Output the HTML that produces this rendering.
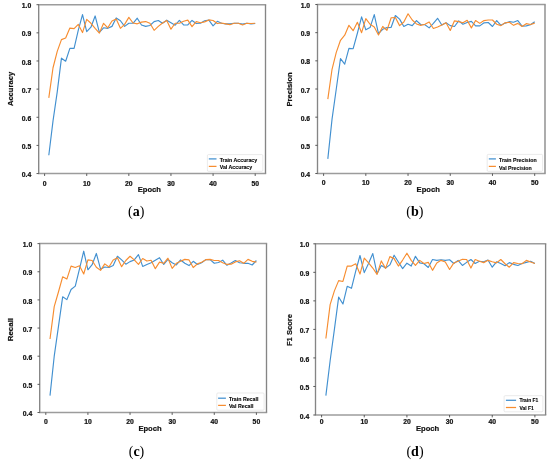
<!DOCTYPE html>
<html><head><meta charset="utf-8"><style>
html,body{margin:0;padding:0;background:#fff;}
body{width:550px;height:461px;overflow:hidden;}
svg{display:block;filter:blur(0.3px);}
.tk{font-family:'Liberation Sans', Arial, sans-serif;font-weight:bold;font-size:6.8px;fill:#111;stroke:#111;stroke-width:0.22px;}
.al{font-family:'Liberation Sans', Arial, sans-serif;font-weight:bold;font-size:7.6px;fill:#111;stroke:#111;stroke-width:0.2px;}
.lg{font-family:'Liberation Sans', Arial, sans-serif;font-weight:bold;fill:#000;stroke:#000;stroke-width:0.1px;}
.cap{font-family:'Liberation Serif','Times New Roman',serif;font-size:14px;fill:#000;}
</style></head><body>
<svg width="550" height="461" viewBox="0 0 550 461">
<rect width="550" height="461" fill="#fff"/>
<polyline points="48.81,155.26 53.02,120.93 57.24,91.94 61.45,58.17 65.66,61.26 69.87,48.32 74.08,48.32 78.30,30.03 82.51,14.55 86.72,31.72 90.93,27.21 95.14,15.96 99.36,32.28 103.57,27.78 107.78,28.34 111.99,26.37 116.20,17.93 120.42,20.74 124.63,26.37 128.84,23.27 133.05,23.27 137.26,18.21 141.48,24.96 145.69,26.37 149.90,25.52 154.11,21.59 158.32,20.46 162.54,23.27 166.75,20.18 170.96,22.71 175.17,25.24 179.38,20.46 183.60,24.96 187.81,24.96 192.02,20.46 196.23,23.55 200.44,23.27 204.66,20.74 208.87,20.18 213.08,25.81 217.29,21.30 221.50,23.27 225.72,23.84 229.93,23.84 234.14,23.27 238.35,23.27 242.56,24.12 246.78,23.27 250.99,23.84 255.20,23.55" fill="none" stroke="#4290d0" stroke-width="1.15" stroke-linejoin="round"/>
<polyline points="48.81,97.85 53.02,67.74 57.24,51.42 61.45,39.60 65.66,37.91 69.87,28.06 74.08,28.62 78.30,24.40 82.51,32.56 86.72,19.33 90.93,23.27 95.14,28.34 99.36,33.12 103.57,23.27 107.78,27.78 111.99,21.02 116.20,19.05 120.42,28.34 124.63,24.40 128.84,17.36 133.05,22.99 137.26,23.84 141.48,22.15 145.69,21.59 149.90,23.27 154.11,30.31 158.32,26.37 162.54,22.99 166.75,20.46 170.96,29.18 175.17,23.27 179.38,23.27 183.60,21.30 187.81,20.18 192.02,26.65 196.23,21.59 200.44,22.71 204.66,21.87 208.87,19.90 213.08,20.46 217.29,23.55 221.50,22.99 225.72,23.84 229.93,24.68 234.14,23.27 238.35,23.27 242.56,24.96 246.78,23.27 250.99,23.55 255.20,23.27" fill="none" stroke="#f78d30" stroke-width="1.15" stroke-linejoin="round"/>
<line x1="38.03" y1="4.70" x2="266.18" y2="4.70" stroke="#9c9c9c" stroke-width="1.5"/>
<line x1="38.03" y1="173.55" x2="266.18" y2="173.55" stroke="#9c9c9c" stroke-width="1.5"/>
<line x1="38.70" y1="4.70" x2="38.70" y2="173.55" stroke="#858585" stroke-width="1.35"/>
<line x1="265.50" y1="4.70" x2="265.50" y2="173.55" stroke="#858585" stroke-width="1.35"/>
<line x1="36.50" y1="173.55" x2="38.70" y2="173.55" stroke="#4a4a4a" stroke-width="0.9"/>
<text x="31.20" y="177.15" text-anchor="end" class="tk">0.4</text>
<line x1="36.50" y1="145.41" x2="38.70" y2="145.41" stroke="#4a4a4a" stroke-width="0.9"/>
<text x="31.20" y="149.01" text-anchor="end" class="tk">0.5</text>
<line x1="36.50" y1="117.27" x2="38.70" y2="117.27" stroke="#4a4a4a" stroke-width="0.9"/>
<text x="31.20" y="120.87" text-anchor="end" class="tk">0.6</text>
<line x1="36.50" y1="89.12" x2="38.70" y2="89.12" stroke="#4a4a4a" stroke-width="0.9"/>
<text x="31.20" y="92.72" text-anchor="end" class="tk">0.7</text>
<line x1="36.50" y1="60.98" x2="38.70" y2="60.98" stroke="#4a4a4a" stroke-width="0.9"/>
<text x="31.20" y="64.58" text-anchor="end" class="tk">0.8</text>
<line x1="36.50" y1="32.84" x2="38.70" y2="32.84" stroke="#4a4a4a" stroke-width="0.9"/>
<text x="31.20" y="36.44" text-anchor="end" class="tk">0.9</text>
<line x1="36.50" y1="4.70" x2="38.70" y2="4.70" stroke="#4a4a4a" stroke-width="0.9"/>
<text x="31.20" y="8.30" text-anchor="end" class="tk">1.0</text>
<line x1="44.60" y1="173.55" x2="44.60" y2="175.95" stroke="#4a4a4a" stroke-width="0.9"/>
<text x="44.60" y="185.95" text-anchor="middle" class="tk">0</text>
<line x1="86.72" y1="173.55" x2="86.72" y2="175.95" stroke="#4a4a4a" stroke-width="0.9"/>
<text x="86.72" y="185.95" text-anchor="middle" class="tk">10</text>
<line x1="128.84" y1="173.55" x2="128.84" y2="175.95" stroke="#4a4a4a" stroke-width="0.9"/>
<text x="128.84" y="185.95" text-anchor="middle" class="tk">20</text>
<line x1="170.96" y1="173.55" x2="170.96" y2="175.95" stroke="#4a4a4a" stroke-width="0.9"/>
<text x="170.96" y="185.95" text-anchor="middle" class="tk">30</text>
<line x1="213.08" y1="173.55" x2="213.08" y2="175.95" stroke="#4a4a4a" stroke-width="0.9"/>
<text x="213.08" y="185.95" text-anchor="middle" class="tk">40</text>
<line x1="255.20" y1="173.55" x2="255.20" y2="175.95" stroke="#4a4a4a" stroke-width="0.9"/>
<text x="255.20" y="185.95" text-anchor="middle" class="tk">50</text>
<text x="149.40" y="191.80" text-anchor="middle" class="al">Epoch</text>
<text transform="translate(12.80,89.00) rotate(-90)" text-anchor="middle" class="al">Accuracy</text>
<rect x="207.40" y="154.60" width="55.40" height="16.70" rx="1" fill="#fff" fill-opacity="0.8" stroke="#dcdcdc" stroke-width="0.6"/>
<line x1="208.80" y1="158.90" x2="216.50" y2="158.90" stroke="#4290d0" stroke-width="1.25"/>
<line x1="208.80" y1="166.40" x2="216.50" y2="166.40" stroke="#f78d30" stroke-width="1.25"/>
<text x="219.70" y="161.90" class="lg" font-size="5.25">Train Accuracy</text>
<text x="219.70" y="169.40" class="lg" font-size="5.25">Val Accuracy</text>
<text x="136.20" y="216.40" text-anchor="middle" class="cap">(<tspan font-weight="bold">a</tspan>)</text>
<polyline points="327.82,158.85 332.04,119.14 336.27,89.00 340.49,58.58 344.71,64.21 348.93,48.44 353.15,48.72 357.38,33.23 361.60,16.89 365.82,29.85 370.04,27.60 374.26,14.64 378.49,33.51 382.71,29.29 386.93,27.60 391.15,27.31 395.37,15.49 399.60,19.15 403.82,26.47 408.04,24.22 412.26,25.62 416.48,20.56 420.71,24.50 424.93,24.78 429.15,27.88 433.37,23.37 437.59,18.30 441.82,25.06 446.04,22.81 450.26,25.62 454.48,26.47 458.70,20.84 462.93,24.22 467.15,22.53 471.37,21.40 475.59,25.91 479.81,25.91 484.04,22.81 488.26,22.53 492.48,26.47 496.70,20.56 500.92,25.34 505.15,23.09 509.37,21.68 513.59,22.24 517.81,20.56 522.03,26.19 526.26,25.91 530.48,24.78 534.70,21.68" fill="none" stroke="#4290d0" stroke-width="1.15" stroke-linejoin="round"/>
<polyline points="327.82,99.14 332.04,69.28 336.27,52.38 340.49,40.27 344.71,35.20 348.93,25.34 353.15,30.69 357.38,22.24 361.60,32.67 365.82,18.58 370.04,24.22 374.26,27.03 378.49,34.92 382.71,26.47 386.93,30.41 391.15,17.74 395.37,17.46 399.60,25.62 403.82,21.96 408.04,13.80 412.26,19.99 416.48,23.93 420.71,25.34 424.93,24.22 429.15,21.96 433.37,28.44 437.59,27.03 441.82,25.06 446.04,22.81 450.26,30.41 454.48,20.84 458.70,21.68 462.93,22.81 467.15,20.27 471.37,27.88 475.59,20.56 479.81,23.37 484.04,20.56 488.26,19.99 492.48,19.99 496.70,24.22 500.92,25.62 505.15,22.81 509.37,22.24 513.59,25.34 517.81,23.37 522.03,26.47 526.26,23.65 530.48,24.50 534.70,23.09" fill="none" stroke="#f78d30" stroke-width="1.15" stroke-linejoin="round"/>
<line x1="316.82" y1="4.50" x2="545.67" y2="4.50" stroke="#9c9c9c" stroke-width="1.5"/>
<line x1="316.82" y1="173.50" x2="545.67" y2="173.50" stroke="#9c9c9c" stroke-width="1.5"/>
<line x1="317.50" y1="4.50" x2="317.50" y2="173.50" stroke="#858585" stroke-width="1.35"/>
<line x1="545.00" y1="4.50" x2="545.00" y2="173.50" stroke="#858585" stroke-width="1.35"/>
<line x1="315.30" y1="173.50" x2="317.50" y2="173.50" stroke="#4a4a4a" stroke-width="0.9"/>
<text x="310.10" y="177.10" text-anchor="end" class="tk">0.4</text>
<line x1="315.30" y1="145.33" x2="317.50" y2="145.33" stroke="#4a4a4a" stroke-width="0.9"/>
<text x="310.10" y="148.93" text-anchor="end" class="tk">0.5</text>
<line x1="315.30" y1="117.17" x2="317.50" y2="117.17" stroke="#4a4a4a" stroke-width="0.9"/>
<text x="310.10" y="120.77" text-anchor="end" class="tk">0.6</text>
<line x1="315.30" y1="89.00" x2="317.50" y2="89.00" stroke="#4a4a4a" stroke-width="0.9"/>
<text x="310.10" y="92.60" text-anchor="end" class="tk">0.7</text>
<line x1="315.30" y1="60.83" x2="317.50" y2="60.83" stroke="#4a4a4a" stroke-width="0.9"/>
<text x="310.10" y="64.43" text-anchor="end" class="tk">0.8</text>
<line x1="315.30" y1="32.67" x2="317.50" y2="32.67" stroke="#4a4a4a" stroke-width="0.9"/>
<text x="310.10" y="36.27" text-anchor="end" class="tk">0.9</text>
<line x1="315.30" y1="4.50" x2="317.50" y2="4.50" stroke="#4a4a4a" stroke-width="0.9"/>
<text x="310.10" y="8.10" text-anchor="end" class="tk">1.0</text>
<line x1="323.60" y1="173.50" x2="323.60" y2="175.90" stroke="#4a4a4a" stroke-width="0.9"/>
<text x="323.60" y="185.40" text-anchor="middle" class="tk">0</text>
<line x1="365.82" y1="173.50" x2="365.82" y2="175.90" stroke="#4a4a4a" stroke-width="0.9"/>
<text x="365.82" y="185.40" text-anchor="middle" class="tk">10</text>
<line x1="408.04" y1="173.50" x2="408.04" y2="175.90" stroke="#4a4a4a" stroke-width="0.9"/>
<text x="408.04" y="185.40" text-anchor="middle" class="tk">20</text>
<line x1="450.26" y1="173.50" x2="450.26" y2="175.90" stroke="#4a4a4a" stroke-width="0.9"/>
<text x="450.26" y="185.40" text-anchor="middle" class="tk">30</text>
<line x1="492.48" y1="173.50" x2="492.48" y2="175.90" stroke="#4a4a4a" stroke-width="0.9"/>
<text x="492.48" y="185.40" text-anchor="middle" class="tk">40</text>
<line x1="534.70" y1="173.50" x2="534.70" y2="175.90" stroke="#4a4a4a" stroke-width="0.9"/>
<text x="534.70" y="185.40" text-anchor="middle" class="tk">50</text>
<text x="428.20" y="191.80" text-anchor="middle" class="al">Epoch</text>
<text transform="translate(291.60,89.40) rotate(-90)" text-anchor="middle" class="al">Precision</text>
<rect x="487.20" y="154.40" width="55.40" height="16.90" rx="1" fill="#fff" fill-opacity="0.8" stroke="#dcdcdc" stroke-width="0.6"/>
<line x1="488.80" y1="158.90" x2="495.90" y2="158.90" stroke="#4290d0" stroke-width="1.25"/>
<line x1="488.80" y1="166.40" x2="495.90" y2="166.40" stroke="#f78d30" stroke-width="1.25"/>
<text x="499.00" y="162.00" class="lg" font-size="5.25">Train Precision</text>
<text x="499.00" y="169.50" class="lg" font-size="5.25">Val Precision</text>
<text x="414.80" y="216.40" text-anchor="middle" class="cap">(<tspan font-weight="bold">b</tspan>)</text>
<polyline points="50.01,395.61 54.22,356.20 58.44,326.64 62.65,296.80 66.86,299.62 71.07,289.48 75.28,286.11 79.50,268.93 83.71,251.20 87.92,269.78 92.13,264.71 96.34,253.45 100.56,269.22 104.77,266.96 108.98,267.53 113.19,265.56 117.40,256.27 121.62,259.93 125.83,264.15 130.04,261.62 134.25,259.93 138.46,254.58 142.68,266.40 146.89,264.43 151.10,262.74 155.31,260.21 159.52,257.68 163.74,264.43 167.95,259.36 172.16,262.74 176.37,264.99 180.58,259.93 184.80,263.30 189.01,265.56 193.22,261.33 197.43,264.43 201.64,262.74 205.86,259.65 210.07,259.65 214.28,263.30 218.49,262.46 222.70,260.21 226.92,265.28 231.13,263.02 235.34,260.49 239.55,262.74 243.76,263.30 247.98,263.30 252.19,264.99 256.40,260.49" fill="none" stroke="#4290d0" stroke-width="1.15" stroke-linejoin="round"/>
<polyline points="50.01,339.03 54.22,306.66 58.44,292.02 62.65,276.82 66.86,279.07 71.07,266.12 75.28,267.53 79.50,265.84 83.71,274.00 87.92,259.93 92.13,260.49 96.34,267.25 100.56,270.34 104.77,263.87 108.98,266.96 113.19,259.93 117.40,257.68 121.62,266.68 125.83,260.49 130.04,256.27 134.25,259.93 138.46,264.43 142.68,258.52 146.89,261.05 151.10,260.21 155.31,268.65 159.52,262.18 163.74,263.30 167.95,258.24 172.16,268.37 176.37,263.30 180.58,261.33 184.80,259.36 189.01,259.93 193.22,267.53 197.43,263.87 201.64,262.18 205.86,259.65 210.07,259.36 214.28,260.49 218.49,260.49 222.70,262.74 226.92,264.43 231.13,264.15 235.34,261.90 239.55,260.77 243.76,263.30 247.98,259.36 252.19,261.33 256.40,262.18" fill="none" stroke="#f78d30" stroke-width="1.15" stroke-linejoin="round"/>
<line x1="39.03" y1="243.60" x2="267.18" y2="243.60" stroke="#9c9c9c" stroke-width="1.5"/>
<line x1="39.03" y1="412.50" x2="267.18" y2="412.50" stroke="#9c9c9c" stroke-width="1.5"/>
<line x1="39.70" y1="243.60" x2="39.70" y2="412.50" stroke="#858585" stroke-width="1.35"/>
<line x1="266.50" y1="243.60" x2="266.50" y2="412.50" stroke="#858585" stroke-width="1.35"/>
<line x1="37.50" y1="412.50" x2="39.70" y2="412.50" stroke="#4a4a4a" stroke-width="0.9"/>
<text x="32.20" y="416.10" text-anchor="end" class="tk">0.4</text>
<line x1="37.50" y1="384.35" x2="39.70" y2="384.35" stroke="#4a4a4a" stroke-width="0.9"/>
<text x="32.20" y="387.95" text-anchor="end" class="tk">0.5</text>
<line x1="37.50" y1="356.20" x2="39.70" y2="356.20" stroke="#4a4a4a" stroke-width="0.9"/>
<text x="32.20" y="359.80" text-anchor="end" class="tk">0.6</text>
<line x1="37.50" y1="328.05" x2="39.70" y2="328.05" stroke="#4a4a4a" stroke-width="0.9"/>
<text x="32.20" y="331.65" text-anchor="end" class="tk">0.7</text>
<line x1="37.50" y1="299.90" x2="39.70" y2="299.90" stroke="#4a4a4a" stroke-width="0.9"/>
<text x="32.20" y="303.50" text-anchor="end" class="tk">0.8</text>
<line x1="37.50" y1="271.75" x2="39.70" y2="271.75" stroke="#4a4a4a" stroke-width="0.9"/>
<text x="32.20" y="275.35" text-anchor="end" class="tk">0.9</text>
<line x1="37.50" y1="243.60" x2="39.70" y2="243.60" stroke="#4a4a4a" stroke-width="0.9"/>
<text x="32.20" y="247.20" text-anchor="end" class="tk">1.0</text>
<line x1="45.80" y1="412.50" x2="45.80" y2="414.90" stroke="#4a4a4a" stroke-width="0.9"/>
<text x="45.80" y="424.20" text-anchor="middle" class="tk">0</text>
<line x1="87.92" y1="412.50" x2="87.92" y2="414.90" stroke="#4a4a4a" stroke-width="0.9"/>
<text x="87.92" y="424.20" text-anchor="middle" class="tk">10</text>
<line x1="130.04" y1="412.50" x2="130.04" y2="414.90" stroke="#4a4a4a" stroke-width="0.9"/>
<text x="130.04" y="424.20" text-anchor="middle" class="tk">20</text>
<line x1="172.16" y1="412.50" x2="172.16" y2="414.90" stroke="#4a4a4a" stroke-width="0.9"/>
<text x="172.16" y="424.20" text-anchor="middle" class="tk">30</text>
<line x1="214.28" y1="412.50" x2="214.28" y2="414.90" stroke="#4a4a4a" stroke-width="0.9"/>
<text x="214.28" y="424.20" text-anchor="middle" class="tk">40</text>
<line x1="256.40" y1="412.50" x2="256.40" y2="414.90" stroke="#4a4a4a" stroke-width="0.9"/>
<text x="256.40" y="424.20" text-anchor="middle" class="tk">50</text>
<text x="150.00" y="431.00" text-anchor="middle" class="al">Epoch</text>
<text transform="translate(12.60,329.60) rotate(-90)" text-anchor="middle" class="al" style="font-size:7.9px">Recall</text>
<rect x="216.80" y="393.00" width="47.30" height="17.20" rx="1" fill="#fff" fill-opacity="0.8" stroke="#dcdcdc" stroke-width="0.6"/>
<line x1="218.10" y1="398.20" x2="225.90" y2="398.20" stroke="#4290d0" stroke-width="1.25"/>
<line x1="218.10" y1="405.40" x2="225.90" y2="405.40" stroke="#f78d30" stroke-width="1.25"/>
<text x="228.90" y="400.70" class="lg" font-size="5.25">Train Recall</text>
<text x="228.90" y="407.90" class="lg" font-size="5.25">Val Recall</text>
<text x="136.50" y="455.50" text-anchor="middle" class="cap">(<tspan font-weight="bold">c</tspan>)</text>
<polyline points="325.87,395.60 330.13,360.79 334.40,329.40 338.66,297.16 342.93,304.01 347.20,286.31 351.46,288.31 355.73,271.19 359.99,255.50 364.26,272.62 368.53,263.49 372.79,253.50 377.06,273.76 381.32,265.49 385.59,268.05 389.86,264.91 394.12,255.21 398.39,262.06 402.65,268.62 406.92,263.20 411.19,266.06 415.45,256.35 419.72,262.92 423.98,263.77 428.25,267.48 432.52,259.49 436.78,260.35 441.05,259.78 445.31,260.35 449.58,259.78 453.85,263.49 458.11,260.35 462.38,265.49 466.64,262.35 470.91,259.49 475.18,263.49 479.44,261.21 483.71,261.78 487.97,260.06 492.24,267.20 496.51,261.78 500.77,263.49 505.04,265.77 509.30,262.63 513.57,264.34 517.84,265.49 522.10,263.49 526.37,262.35 530.63,261.21 534.90,263.49" fill="none" stroke="#4290d0" stroke-width="1.15" stroke-linejoin="round"/>
<polyline points="325.87,338.53 330.13,304.58 334.40,290.88 338.66,280.61 342.93,281.46 347.20,266.06 351.46,266.06 355.73,263.77 359.99,274.05 364.26,258.07 368.53,262.92 372.79,268.05 377.06,274.33 381.32,260.92 385.59,268.34 389.86,256.64 394.12,258.64 398.39,266.06 402.65,260.06 406.92,253.22 411.19,260.35 415.45,265.49 419.72,260.35 423.98,263.49 428.25,262.35 432.52,270.34 436.78,262.92 441.05,260.35 445.31,262.06 449.58,269.48 453.85,262.92 458.11,261.21 462.38,259.21 466.64,259.49 470.91,268.05 475.18,259.49 479.44,261.21 483.71,262.63 487.97,260.35 492.24,261.78 496.51,262.92 500.77,259.49 505.04,263.77 509.30,267.20 513.57,262.63 517.84,263.49 522.10,263.77 526.37,260.35 530.63,262.06 534.90,263.49" fill="none" stroke="#f78d30" stroke-width="1.15" stroke-linejoin="round"/>
<line x1="314.82" y1="243.80" x2="546.27" y2="243.80" stroke="#9c9c9c" stroke-width="1.5"/>
<line x1="314.82" y1="415.00" x2="546.27" y2="415.00" stroke="#9c9c9c" stroke-width="1.5"/>
<line x1="315.50" y1="243.80" x2="315.50" y2="415.00" stroke="#858585" stroke-width="1.35"/>
<line x1="545.60" y1="243.80" x2="545.60" y2="415.00" stroke="#858585" stroke-width="1.35"/>
<line x1="313.30" y1="415.00" x2="315.50" y2="415.00" stroke="#4a4a4a" stroke-width="0.9"/>
<text x="309.20" y="418.60" text-anchor="end" class="tk">0.4</text>
<line x1="313.30" y1="386.47" x2="315.50" y2="386.47" stroke="#4a4a4a" stroke-width="0.9"/>
<text x="309.20" y="390.07" text-anchor="end" class="tk">0.5</text>
<line x1="313.30" y1="357.93" x2="315.50" y2="357.93" stroke="#4a4a4a" stroke-width="0.9"/>
<text x="309.20" y="361.53" text-anchor="end" class="tk">0.6</text>
<line x1="313.30" y1="329.40" x2="315.50" y2="329.40" stroke="#4a4a4a" stroke-width="0.9"/>
<text x="309.20" y="333.00" text-anchor="end" class="tk">0.7</text>
<line x1="313.30" y1="300.87" x2="315.50" y2="300.87" stroke="#4a4a4a" stroke-width="0.9"/>
<text x="309.20" y="304.47" text-anchor="end" class="tk">0.8</text>
<line x1="313.30" y1="272.33" x2="315.50" y2="272.33" stroke="#4a4a4a" stroke-width="0.9"/>
<text x="309.20" y="275.93" text-anchor="end" class="tk">0.9</text>
<line x1="313.30" y1="243.80" x2="315.50" y2="243.80" stroke="#4a4a4a" stroke-width="0.9"/>
<text x="309.20" y="247.40" text-anchor="end" class="tk">1.0</text>
<line x1="321.60" y1="415.00" x2="321.60" y2="417.40" stroke="#4a4a4a" stroke-width="0.9"/>
<text x="321.60" y="424.20" text-anchor="middle" class="tk">0</text>
<line x1="364.26" y1="415.00" x2="364.26" y2="417.40" stroke="#4a4a4a" stroke-width="0.9"/>
<text x="364.26" y="424.20" text-anchor="middle" class="tk">10</text>
<line x1="406.92" y1="415.00" x2="406.92" y2="417.40" stroke="#4a4a4a" stroke-width="0.9"/>
<text x="406.92" y="424.20" text-anchor="middle" class="tk">20</text>
<line x1="449.58" y1="415.00" x2="449.58" y2="417.40" stroke="#4a4a4a" stroke-width="0.9"/>
<text x="449.58" y="424.20" text-anchor="middle" class="tk">30</text>
<line x1="492.24" y1="415.00" x2="492.24" y2="417.40" stroke="#4a4a4a" stroke-width="0.9"/>
<text x="492.24" y="424.20" text-anchor="middle" class="tk">40</text>
<line x1="534.90" y1="415.00" x2="534.90" y2="417.40" stroke="#4a4a4a" stroke-width="0.9"/>
<text x="534.90" y="424.20" text-anchor="middle" class="tk">50</text>
<text x="427.60" y="431.00" text-anchor="middle" class="al">Epoch</text>
<text transform="translate(291.60,330.00) rotate(-90)" text-anchor="middle" class="al">F1 Score</text>
<rect x="504.10" y="395.70" width="38.80" height="16.10" rx="1" fill="#fff" fill-opacity="0.8" stroke="#dcdcdc" stroke-width="0.6"/>
<line x1="505.90" y1="400.30" x2="516.10" y2="400.30" stroke="#4290d0" stroke-width="1.25"/>
<line x1="505.90" y1="407.50" x2="516.10" y2="407.50" stroke="#f78d30" stroke-width="1.25"/>
<text x="519.40" y="402.30" class="lg" font-size="4.95">Train F1</text>
<text x="519.40" y="409.50" class="lg" font-size="4.95">Val F1</text>
<text x="415.00" y="455.50" text-anchor="middle" class="cap">(<tspan font-weight="bold">d</tspan>)</text>
</svg>
</body></html>
